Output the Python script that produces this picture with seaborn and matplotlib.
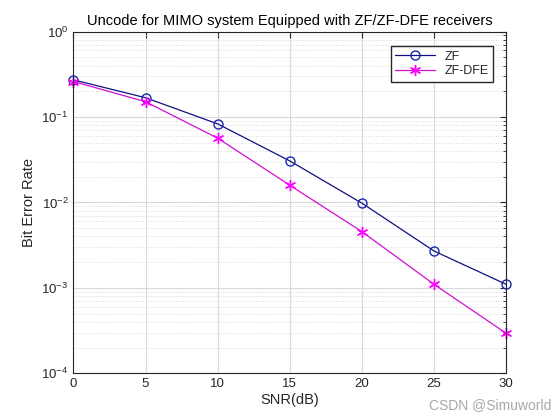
import matplotlib
matplotlib.use('Agg')

import numpy as np
import pandas as pd
import seaborn as sns
from matplotlib import pyplot as plt
from matplotlib.ticker import LogLocator, NullFormatter

# values
snr_db = [0, 5, 10, 15, 20, 25, 30]
ber_zf = [0.272, 0.168, 0.083, 0.0306, 0.0098, 0.0027, 0.0011]
ber_zfdfe = [0.26, 0.151, 0.0565, 0.0159, 0.00455, 0.0011, 0.000294]
series_names = ['ZF', 'ZF-DFE']

df = pd.DataFrame({
    'SNR': snr_db * 2,
    'BER': ber_zf + ber_zfdfe,
    'rx': [series_names[0]] * len(snr_db) + [series_names[1]] * len(snr_db),
})

sns.set_style('white')
plt.rcParams['font.family'] = ['Liberation Sans', 'DejaVu Sans']
plt.rcParams['mathtext.fontset'] = 'custom'
plt.rcParams['mathtext.rm'] = 'Liberation Sans'
plt.rcParams['mathtext.it'] = 'Liberation Sans'

fig = plt.figure(figsize=(5.6, 4.2), dpi=100)
ax = fig.add_axes([0.131, 0.111, 0.773, 0.814])

sns.lineplot(data=df, x='SNR', y='BER', hue='rx', style='rx',
             palette={'ZF': '#101080', 'ZF-DFE': '#d010d0'},
             markers={'ZF': 'o', 'ZF-DFE': 'o'}, dashes=False,
             linewidth=0.9, ax=ax, legend=False)

# hollow circles, magenta asterisks like the matlab look
lines = ax.get_lines()
lines[0].set_marker('o')
lines[0].set_markersize(6.5)
lines[0].set_markerfacecolor('none')
lines[0].set_markeredgecolor('#1a28b0')
lines[0].set_markeredgewidth(1.0)
lines[1].set_marker((6, 2, 0))
lines[1].set_markersize(8)
lines[1].set_markerfacecolor('none')
lines[1].set_markeredgecolor('#ff00ff')
lines[1].set_markeredgewidth(1.0)
for ln in lines:
    ln.set_clip_on(False)

ax.set_yscale('log')
ax.set_xlim(0, 30)
ax.set_ylim(1e-4, 1)
ax.set_xticks(range(0, 31, 5))
ax.yaxis.set_major_locator(LogLocator(base=10, numticks=10))
ax.yaxis.set_minor_locator(LogLocator(base=10, subs=np.arange(2, 10), numticks=20))
ax.yaxis.set_minor_formatter(NullFormatter())

ax.grid(True, which='major', color='#d9d9d9', linewidth=0.8, linestyle='-')
ax.grid(True, which='minor', axis='y', color='#d0d0d0', linewidth=0.6, linestyle=(0, (1, 2)))
ax.tick_params(which='both', direction='in', top=True, right=True, labelsize=9.5, colors='#262626')
ax.tick_params(which='major', length=4)
ax.tick_params(which='minor', length=2)
for s in ax.spines.values():
    s.set_color('#262626')
    s.set_linewidth(0.8)

ax.set_xlabel('SNR(dB)', fontsize=10.5, color='#262626', labelpad=2)
ax.set_ylabel('Bit Error Rate', fontsize=10.5, color='#262626', labelpad=4)
ax.set_title('Uncode for MIMO system Equipped with ZF/ZF-DFE receivers',
             fontsize=10.5, color='#000000', pad=5)

ax.legend(lines, series_names, loc='upper right', bbox_to_anchor=(0.985, 0.975),
          fontsize=9, frameon=True, fancybox=False, edgecolor='#262626',
          framealpha=1, handlelength=3.2, borderpad=0.35, labelspacing=0.2)

fig.text(0.985, 0.02, 'CSDN @Simuworld', ha='right', va='bottom',
         fontsize=10, color='#a8a8a8')

fig.savefig('out.png', dpi=100)
